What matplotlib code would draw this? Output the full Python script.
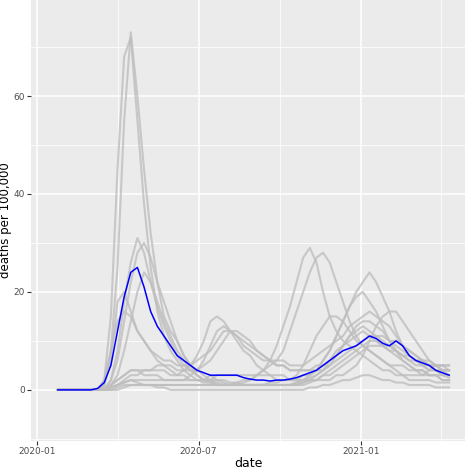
import matplotlib
matplotlib.use("Agg")
import matplotlib.pyplot as plt
import matplotlib.dates as mdates
import numpy as np
import pandas as pd

dates = pd.date_range("2020-01-24", "2021-04-10", periods=60)

mean_us = [0,0,0,0,0,0,0.3,1.5,5,12,19,24,25,21,16,13,11,9,7,6,5,4,3.5,3,3,3,3,3,2.5,2.2,2,2,1.8,2,2,2.2,2.5,3,3.5,4,5,6,7,8,8.5,9,10,11,10.5,9.5,9,10,9,7,6,5.5,5,4,3.5,3]

ny = [0,0,0,0,0,0,0,2,15,45,68,72,55,38,25,16,11,8,6,4,3,2,2,1.5,1,1,1,1,1,1,1,1,1,1,1,1,1,1.5,2,2,3,3,4,5,6,7,8,9,9,9,8,8,7,7,6,6,5,5,5,4]
nj = [0,0,0,0,0,0,0,1,8,25,55,73,60,45,32,22,15,12,10,7,5,3,2,3,2,1.5,1,1,1,1,1,1,1,1,1,1,1,1,1.5,2,3,4,5,6,7,8,9,10,10,9,9,8,7,6,6,5,5,4,4,4]
ma = [0,0,0,0,0,0,0,0,2,6,14,22,28,30,27,22,18,14,10,7,5,4,3,2,2,2,1.5,1.5,1,1,1,1,1,1,1,1,1.5,2,2.5,3,4,5,7,9,11,12,13,12,11,10,9,8,6,5,4,4,3,3,3,2.5]
ct = [0,0,0,0,0,0,0,0,2,8,18,26,31,28,22,17,13,10,7,5,4,3,2,2,1,1,1,1,1,1,1,1,1,1,1,1,1,1.5,2,3,4,6,8,9,10,11,12,11,10,9,8,7,6,5,4,4,3,3,2,2]
mi = [0,0,0,0,0,0,0,1,6,18,20,16,12,10,8,6,5,4,3,3,2,2,1.5,1.5,1,1,1,1,1,1,1,1,1.5,1.5,2,2,3,5,8,11,13,15,15,14,12,10,9,8,7,6,5,4,3,3,3,3,4,5,5,5]
la = [0,0,0,0,0,0,0,2,8,14,16,15,12,10,8,7,6,6,5,5,5,6,7,8,10,12,12,11,9,8,7,6,6,5,5,4,4,4,4,5,5,6,7,9,11,13,14,14,13,12,10,8,7,6,5,5,4,4,3,3]
az = [0,0,0,0,0,0,0,0,0.5,1,2,3,3,4,4,4,4,3,3,4,5,7,10,14,15,14,12,10,8,7,5,4,3,3,3,2,2,3,3,4,6,8,11,14,17,20,22,24,22,19,16,12,9,7,6,5,4,4,3,3]
fl = [0,0,0,0,0,0,0,0.5,1,2,3,4,4,3,3,3,2,2,2,2,3,4,6,9,12,13,12,11,10,9,8,7,6,5,5,4,4,4,4,4,4,5,6,7,8,9,10,11,11,11,10,10,9,8,7,6,6,5,5,5]
sd = [0,0,0,0,0,0,0,0,0,0.5,1,1,1,1,1,1,1,1,1,1,1,1,1,1,1,1,1,1.5,2,2,3,4,5,6,8,12,16,20,24,27,28,26,22,18,14,11,9,8,7,6,5,5,5,4,4,3,3,3,2,2]
nd = [0,0,0,0,0,0,0,0,0,0,0.5,1,1,1,1,1,1,1,1,1,1,1,1,1,1,1,1,1,1.5,2,3,4,6,9,13,17,22,27,29,26,20,15,12,10,9,8,7,6,5,4,4,3,3,2,2,2,2,1.5,1.5,1.5]
ca = [0,0,0,0,0,0,0,0,0.5,1,1.5,2,2,2,2,2,2,2,2,2,2,2,2,2,3,3,3,3,3,3,3,3,3,2,2,2,2,2,2,2,2,2,3,3,4,5,7,10,13,15,16,16,14,12,10,8,6,5,4,3]
ms = [0,0,0,0,0,0,0,0,1,2,3,4,4,4,4,5,5,5,4,4,4,4,5,6,8,10,12,12,11,10,8,7,6,6,6,5,5,5,6,7,8,9,10,11,13,14,15,16,15,14,13,11,9,8,7,6,5,5,4,4]
ri = [0,0,0,0,0,0,0,0,1,3,8,14,20,24,22,18,14,11,8,6,4,3,2,2,1.5,1,1,1,1,1,1,1,1,1,1,1,1.5,2,3,4,6,8,11,14,17,19,20,18,16,13,10,9,8,7,6,6,5,5,4,4]
vt = [0,0,0,0,0,0,0,0,0.5,1,1.5,2,1.5,1,1,0.5,0.5,0,0,0,0,0,0,0,0,0,0,0,0,0,0,0,0,0,0,0,0,0,0.5,0.5,1,1,1.5,2,2,2.5,3,3,2.5,2,2,1.5,1.5,1,1,1,1,0.5,0.5,0.5]

states = [ny, nj, ma, ct, mi, la, az, fl, sd, nd, ca, ms, ri, vt]

fig = plt.figure(figsize=(4.74, 4.74), dpi=100)
ax = fig.add_axes([0.066, 0.07, 0.915, 0.93])
ax.set_facecolor("#EBEBEB")
for s in states:
    n = min(len(s), len(dates))
    ax.plot(dates[:n], s[:n], color="#BEBEBE", lw=1.5, alpha=0.8, zorder=2)
n = min(len(mean_us), len(dates))
ax.plot(dates[:n], mean_us[:n], color="#0000FF", lw=1.1, zorder=3)

ax.set_ylim(-10.4, 79.6)
ax.set_xlim(pd.Timestamp("2019-12-25"), pd.Timestamp("2021-04-28"))
ax.set_yticks([0, 20, 40, 60])
ax.set_yticks([-10, 10, 30, 50, 70], minor=True)
ax.set_xticks([pd.Timestamp("2020-01-01"), pd.Timestamp("2020-07-01"), pd.Timestamp("2021-01-01")])
ax.set_xticks([pd.Timestamp("2020-04-01"), pd.Timestamp("2020-10-01"), pd.Timestamp("2021-04-01")], minor=True)
ax.xaxis.set_major_formatter(mdates.DateFormatter("%Y-%m"))
ax.grid(which="major", color="white", lw=1.1, zorder=0)
ax.grid(which="minor", color="white", lw=0.55, zorder=0)
ax.set_axisbelow(True)
for sp in ax.spines.values():
    sp.set_visible(False)
ax.tick_params(which="both", length=3, color="#333333", labelsize=6.5, labelcolor="#4D4D4D", pad=1.5)
ax.tick_params(which="minor", length=0)
ax.set_xlabel("date", fontsize=9, labelpad=1)
ax.set_ylabel("deaths per 100,000", fontsize=8.5, labelpad=1)
fig.savefig("out.png", dpi=100)
